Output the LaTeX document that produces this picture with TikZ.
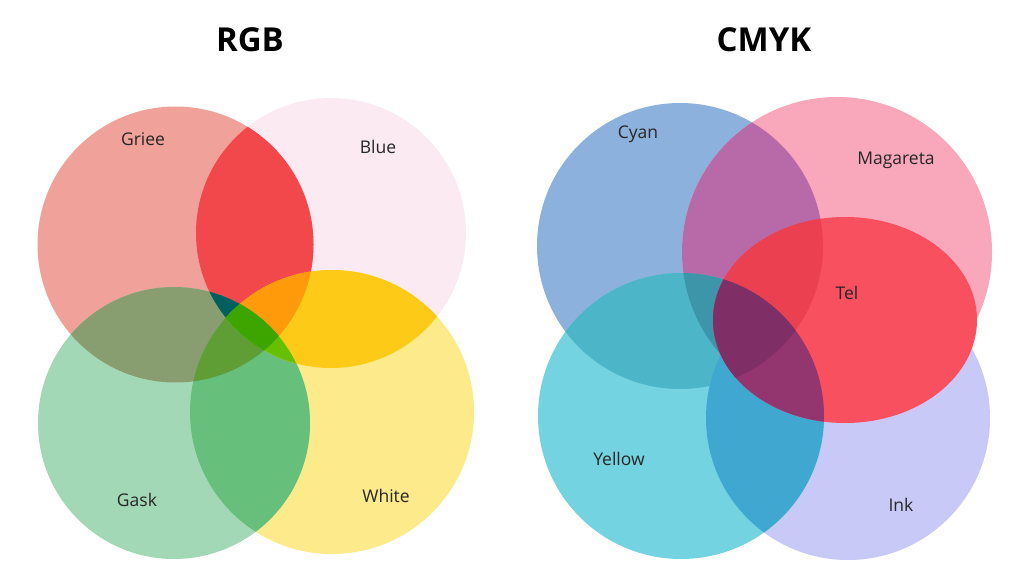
\documentclass[tikz,border=0pt]{standalone}
\usepackage{fontspec}
\setmainfont{Open Sans}
\begin{document}
\begin{tikzpicture}[x=1pt,y=-1pt,
  hx/.code={\definecolor{tmpc}{HTML}{#1}\tikzset{fill=tmpc}},
  lbl/.style={font=\fontsize{17.5}{20}\selectfont, text=black!85},
  ttl/.style={font=\bfseries\fontsize{33}{38}\selectfont, text=black}]
\useasboundingbox (0,0) rectangle (1024,585);
\fill[white] (0,0) rectangle (1024,585);
% ---- RGB ----
\def\cR{(175.5,244.5) circle (138)}
\def\cP{(331,233) circle (135)}
\def\cG{(174,423) circle (136)}
\def\cY{(332,412) circle (142)}
\fill[hx=FCEAF3] \cP; \fill[hx=F0A19A] \cR; \fill[hx=FDEA8A] \cY; \fill[hx=A3D8B6] \cG;
\begin{scope}\clip \cR; \fill[hx=F2484C] \cP; \fill[hx=889D70] \cG; \end{scope}
\begin{scope}\clip \cG; \fill[hx=66BF7B] \cY; \end{scope}
\begin{scope}\clip \cP; \fill[hx=FDCB17] \cY; \end{scope}
\begin{scope}\clip \cR; \clip \cP; \fill[hx=FF9A0A] \cY; \fill[hx=005F5F] \cG; \end{scope}
\begin{scope}\clip \cR; \clip \cG; \fill[hx=5E9E34] \cY; \end{scope}
\begin{scope}\clip \cG; \clip \cY; \fill[hx=66C000] \cP; \end{scope}
\begin{scope}\clip \cR; \clip \cG; \clip \cY; \fill[hx=3DA500] \cP; \end{scope}
% ---- CMYK ----
\def\cC{(680,246) circle (143)}
\def\cM{(837,252) circle (155)}
\def\cT{(845,320) ellipse [x radius=132, y radius=103]}
\def\cL{(681,416) circle (143)}
\def\cV{(848,418) circle (142)}
\fill[hx=C9C9F7] \cV; \fill[hx=8CB1DC] \cC; \fill[hx=F9A7BA] \cM; \fill[hx=74D3E1] \cL;
\begin{scope}\clip \cC; \fill[hx=B86AA8] \cM; \fill[hx=4DB5C8] \cL; \end{scope}
\begin{scope}\clip \cL; \fill[hx=40A8D0] \cV; \end{scope}
\begin{scope}\clip \cC; \clip \cM; \fill[hx=3C95A8] \cL; \end{scope}
\fill[hx=F9505F] \cT;
\begin{scope}\clip \cT; \fill[hx=EB404F] \cC; \fill[hx=933670] \cL; \end{scope}
\begin{scope}\clip \cT; \clip \cC; \fill[hx=7F2F66] \cL; \end{scope}
% ---- text ----
\node[ttl] (t1) at (250,40) {RGB};
\node[ttl] (t2) at (764,40) {CMYK};
\node[lbl] (a) at (143,139) {Griee};
\node[lbl] (b) at (378,147) {Blue};
\node[lbl] (c) at (137,500) {Gask};
\node[lbl] (d) at (386,496) {White};
\node[lbl] (e) at (638,134) {Cyan};
\node[lbl] (f) at (896,160) {Magareta};
\node[lbl] (g) at (847,293) {Tel};
\node[lbl] (h) at (619,459) {Yellow};
\node[lbl] (i) at (901,505) {Ink};
\end{tikzpicture}
\end{document}
